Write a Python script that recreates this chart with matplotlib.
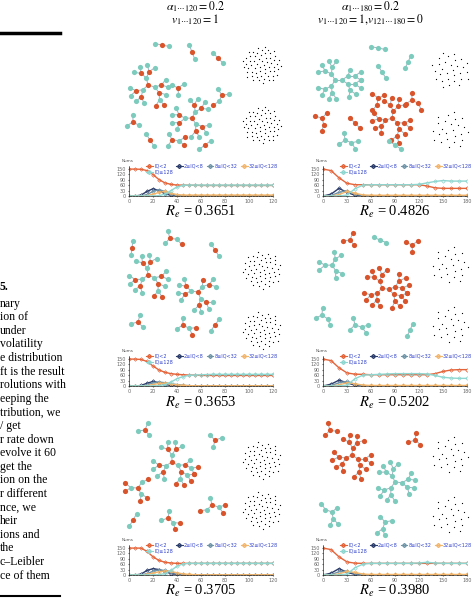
import numpy as np
import matplotlib.pyplot as plt

plt.rcParams['mathtext.fontset'] = 'stix'

# ---- data -----------------------------------------------------------------
headers = [(r"$\alpha_{1\cdots120}=0.2$", r"$v_{1\cdots120}=1$"),
           (r"$\alpha_{1\cdots180}=0.2$", r"$v_{1\cdots120}=1{,}v_{121\cdots180}=0$")]
re_values = [["0.3651", "0.3653", "0.3705"], ["0.4826", "0.5202", "0.3980"]]
series_names = ["IQ<2", "2≤IQ<8", "8≤IQ<32", "32≤IQ<128", "IQ≥128"]
series_colors = ["#e4643a", "#2c3d6b", "#6f94a8", "#f2b56b", "#8fd6d0"]
side_text = ["5.", "nary", "ion of", "under", "volatility", "e distribution",
             "ft is the result", "rolutions with", "eeping the", "tribution, we",
             "/ get", "r rate down", "evolve it 60", "get the", "ion on the",
             "r different", "nce, we", "heir", "ions and", "the", "c–Leibler",
             "ce of them"]

t_left = np.arange(0, 125, 5)      # 25 points
t_right = np.arange(0, 190, 10)    # 19 points
left_series = [
    [[148, 148, 147, 140, 118, 90, 72, 64, 60, 60, 59, 59, 58, 58, 58, 58, 58, 58, 58, 58, 58, 58, 58, 58, 58],
     [0, 0, 5, 25, 40, 30, 12, 4, 1, 0, 0, 0, 0, 0, 0, 0, 0, 0, 0, 0, 0, 0, 0, 0, 0],
     [0, 0, 0, 8, 25, 35, 25, 10, 3, 1, 0, 0, 0, 0, 0, 0, 0, 0, 0, 0, 0, 0, 0, 0, 0],
     [0, 0, 0, 2, 10, 20, 25, 15, 8, 5, 5, 5, 5, 5, 5, 5, 5, 5, 5, 5, 5, 5, 5, 5, 5],
     [0, 0, 0, 0, 0, 2, 10, 30, 50, 58, 60, 60, 60, 60, 60, 60, 60, 60, 60, 60, 60, 60, 60, 60, 60]],
    [[148, 148, 146, 135, 110, 88, 75, 68, 64, 62, 60, 60, 58, 58, 58, 58, 58, 58, 58, 58, 58, 58, 58, 58, 58],
     [0, 0, 3, 15, 25, 18, 8, 3, 1, 0, 0, 0, 0, 0, 0, 0, 0, 0, 0, 0, 0, 0, 0, 0, 0],
     [0, 0, 0, 5, 18, 22, 18, 12, 8, 4, 2, 1, 0, 0, 0, 0, 0, 0, 0, 0, 0, 0, 0, 0, 0],
     [0, 0, 0, 2, 8, 14, 15, 10, 6, 3, 2, 1, 1, 1, 1, 1, 1, 1, 1, 1, 1, 1, 1, 1, 1],
     [0, 0, 0, 0, 0, 2, 8, 22, 40, 52, 58, 60, 62, 63, 64, 64, 64, 64, 64, 64, 64, 64, 64, 64, 64]],
    [[148, 148, 148, 130, 100, 80, 70, 66, 64, 64, 64, 64, 64, 64, 64, 64, 64, 64, 64, 64, 64, 64, 64, 64, 64],
     [0, 0, 5, 25, 35, 30, 18, 8, 3, 1, 0, 0, 0, 0, 0, 0, 0, 0, 0, 0, 0, 0, 0, 0, 0],
     [0, 0, 0, 8, 20, 28, 25, 18, 8, 3, 1, 0, 0, 0, 0, 0, 0, 0, 0, 0, 0, 0, 0, 0, 0],
     [0, 0, 0, 3, 10, 18, 22, 20, 12, 6, 3, 2, 1, 1, 1, 1, 1, 1, 1, 1, 1, 1, 1, 1, 1],
     [0, 0, 0, 0, 0, 2, 8, 25, 48, 62, 64, 64, 64, 64, 64, 64, 64, 64, 64, 64, 64, 64, 64, 64, 64]],
]
right_series = [
    [[148, 140, 100, 70, 62, 62, 62, 62, 62, 62, 62, 62, 62, 55, 45, 42, 42, 42, 42],
     [0, 10, 42, 20, 4, 0, 0, 0, 0, 0, 0, 0, 0, 0, 0, 0, 0, 0, 0],
     [0, 2, 20, 30, 10, 2, 0, 0, 0, 0, 0, 0, 0, 0, 0, 0, 0, 0, 0],
     [0, 0, 8, 25, 15, 6, 4, 4, 4, 4, 4, 4, 4, 4, 4, 4, 4, 4, 4],
     [0, 0, 0, 5, 40, 60, 62, 62, 62, 62, 62, 62, 64, 72, 80, 85, 82, 82, 82]],
    [[148, 140, 100, 72, 65, 64, 62, 62, 62, 62, 62, 62, 62, 62, 68, 80, 88, 90, 90],
     [0, 10, 32, 18, 4, 0, 0, 0, 0, 0, 0, 0, 0, 0, 0, 0, 0, 0, 0],
     [0, 2, 18, 25, 10, 2, 0, 0, 0, 0, 0, 0, 0, 0, 0, 0, 0, 0, 0],
     [0, 0, 6, 18, 12, 5, 3, 3, 3, 3, 3, 3, 3, 3, 3, 3, 3, 3, 3],
     [0, 0, 0, 5, 40, 60, 62, 64, 66, 68, 68, 68, 68, 66, 58, 48, 44, 42, 42]],
    [[148, 140, 100, 72, 65, 64, 64, 64, 64, 64, 64, 64, 64, 64, 64, 64, 64, 64, 64],
     [0, 10, 35, 15, 3, 0, 0, 0, 0, 0, 0, 0, 0, 0, 0, 0, 0, 0, 0],
     [0, 2, 18, 22, 8, 2, 0, 0, 0, 0, 0, 0, 0, 0, 0, 0, 0, 0, 0],
     [0, 0, 6, 20, 14, 5, 3, 3, 3, 3, 3, 3, 3, 3, 3, 3, 3, 3, 3],
     [0, 0, 0, 5, 40, 60, 64, 64, 64, 64, 64, 64, 66, 70, 66, 64, 64, 64, 64]],
]

# trees per panel: (x, y, n_nodes, colour mode, rotation) in pixel coords
# mode 'a' alternating red/cyan, 'r' all red, 'c' all cyan
trees = [
    # row 1 left
    (148, 85, 24, 'a', 0.3), (192, 118, 22, 'a', 1.0), (133, 122, 4, 'a', 0.5), (162, 45, 3, 'a', 0.2),
    (192, 52, 3, 'a', 1.2), (218, 58, 3, 'a', 0.8), (222, 95, 5, 'a', 2.0), (172, 140, 6, 'a', 0.1),
    (205, 145, 3, 'a', 2.5), (178, 88, 4, 'a', 1.5), (150, 140, 3, 'a', 1.0),
    # row 1 right
    (335, 80, 28, 'c', 0.0), (392, 118, 24, 'r', 0.7), (322, 118, 5, 'r', 1.3), (345, 140, 6, 'c', 0.4),
    (378, 48, 3, 'c', 0.2), (382, 72, 3, 'c', 1.0), (408, 62, 3, 'c', 2.0), (412, 100, 5, 'r', 0.5),
    (355, 123, 3, 'r', 0.8), (378, 98, 5, 'r', 1.7), (395, 145, 3, 'c', 0.6),
    # row 2 left
    (148, 275, 24, 'a', 0.4), (198, 292, 20, 'a', 1.2), (138, 322, 4, 'a', 0.8), (170, 238, 5, 'a', 0.2),
    (215, 250, 3, 'a', 1.0), (183, 325, 6, 'a', 0.5), (215, 325, 3, 'a', 2.2), (132, 248, 3, 'a', 1.7),
    # row 2 right
    (382, 288, 30, 'r', 0.2), (332, 265, 10, 'c', 1.0), (322, 315, 5, 'c', 0.6), (350, 240, 4, 'r', 0.9),
    (412, 245, 4, 'r', 1.5), (355, 325, 6, 'c', 0.3), (410, 330, 3, 'c', 2.0), (380, 240, 3, 'c', 0.4),
    # row 3 left
    (172, 462, 28, 'a', 0.5), (138, 488, 9, 'a', 1.1), (212, 505, 7, 'a', 0.3), (145, 430, 4, 'a', 0.9),
    (215, 440, 4, 'a', 1.8), (168, 518, 6, 'a', 0.7), (133, 520, 3, 'a', 2.1),
    # row 3 right
    (352, 455, 24, 'r', 0.6), (395, 482, 22, 'c', 0.1), (332, 512, 7, 'c', 1.4), (415, 440, 4, 'r', 0.7),
    (385, 522, 6, 'c', 1.9), (330, 430, 4, 'r', 2.3),
]
# dot clouds (centre x, centre y, count)
clouds = [(262, 65, 60), (262, 125, 60), (262, 270, 55), (262, 330, 55), (262, 460, 55),
          (262, 510, 55), (450, 70, 30), (450, 130, 25), (450, 265, 25), (450, 325, 25),
          (450, 455, 25), (450, 515, 25)]

RED, CYAN = "#d9532b", "#7ccbbd"

# ---- figure ---------------------------------------------------------------
fig = plt.figure(figsize=(4.74, 6.01), dpi=100)
bg = fig.add_axes([0, 0, 1, 1])
bg.set_xlim(0, 474)
bg.set_ylim(601, 0)
bg.axis('off')

# left caption fragments
bg.plot([0, 60], [33, 33], color='k', lw=2.5)
bg.plot([0, 60], [596, 596], color='k', lw=1.5)
for i, line in enumerate(side_text):
    bg.text(0, 287 + i * 13.6 + (3 if i else 0), line, fontsize=8.5, family='Liberation Serif',
            va='center', weight='bold' if i == 0 else 'normal')

for col, (h1, h2) in enumerate(headers):
    cx = 195 if col == 0 else 370
    bg.text(cx, 7, h1, fontsize=8.5, ha='center', va='center')
    bg.text(cx, 20, h2, fontsize=8.5, ha='center', va='center')


def draw_tree(x0, y0, n, mode, rot, s=7.0):
    pos = [(x0, y0)]
    ang = [0.0]
    depth = [0]
    nroot = 3 if n > 4 else n - 1
    for i in range(1, n):
        if i <= nroot:
            p = 0
            a = rot + 2 * np.pi * (i - 1) / max(nroot, 1)
        else:
            p = (i - nroot - 1) // 2 + 1
            a = ang[p] + (0.6 if (i - nroot) % 2 else -0.6)
        px, py = pos[p]
        nx, ny = px + s * np.cos(a), py + s * np.sin(a)
        bg.plot([px, nx], [py, ny], color='#9fb4bf', lw=0.7, zorder=1)
        pos.append((nx, ny))
        ang.append(a)
        depth.append(depth[p] + 1)
    for (x, y), d in zip(pos, depth):
        if mode == 'a':
            c = RED if d % 2 == 0 else CYAN
        else:
            c = RED if mode == 'r' else CYAN
        bg.scatter(x, y, s=14, color=c, zorder=2, lw=0)


for x, y, n, mode, rot in trees:
    draw_tree(x, y, n, mode, rot)

for cx, cy, n in clouds:
    k = np.arange(n)
    r = 20 * np.sqrt((k + 0.5) / n)
    th = k * 2.39996
    bg.scatter(cx + r * np.cos(th), cy + r * 0.95 * np.sin(th), s=0.8, color='k', lw=0)

# ---- line charts ----------------------------------------------------------
row_y = [162, 352, 541]
re_y = [212, 403, 591]
legend_order = [0, 4, 1, 2, 3]
for col in range(2):
    x0, x1 = (129, 273) if col == 0 else (323, 467)
    t = t_left if col == 0 else t_right
    data = left_series if col == 0 else right_series
    for row in range(3):
        top = row_y[row] + 4
        ax = fig.add_axes([x0 / 474, 1 - (top + 30) / 601, (x1 - x0) / 474, 30 / 601])
        for vals, c in zip(data[row], series_colors):
            ax.plot(t, vals, color=c, lw=1, marker='D', ms=1.8, mfc='none', mew=0.5)
        ax.set_xlim(0, t[-1])
        ax.set_ylim(0, 165)
        ax.set_yticks([0, 30, 60, 90, 120, 150])
        ax.set_xticks(np.arange(0, t[-1] + 1, 20 if col == 0 else 30))
        ax.tick_params(labelsize=3.5, length=1, pad=1, colors='#666666')
        for sp in ['top', 'right']:
            ax.spines[sp].set_visible(False)
        for sp in ['left', 'bottom']:
            ax.spines[sp].set_linewidth(0.4)
        ax.text(-0.05, 1.12, "Nums", transform=ax.transAxes, fontsize=3, color='#555')
        ax.legend([plt.Line2D([], [], color=series_colors[i], marker='D', ms=2, mfc='none', lw=0.8)
                   for i in legend_order], [series_names[i] for i in legend_order],
                  ncol=4, fontsize=3.5, frameon=False, loc='lower left',
                  bbox_to_anchor=(0.1, 0.62), handlelength=1.4, columnspacing=0.6,
                  labelcolor='#3344cc', borderpad=0, handletextpad=0.3, labelspacing=0.2)
        cx = (x0 + x1) / 2
        bg.text(cx, re_y[row], r"$R_e$ = " + re_values[col][row], fontsize=10.5,
                ha='center', va='center', family='Liberation Serif')

fig.savefig("out.png", dpi=100)
